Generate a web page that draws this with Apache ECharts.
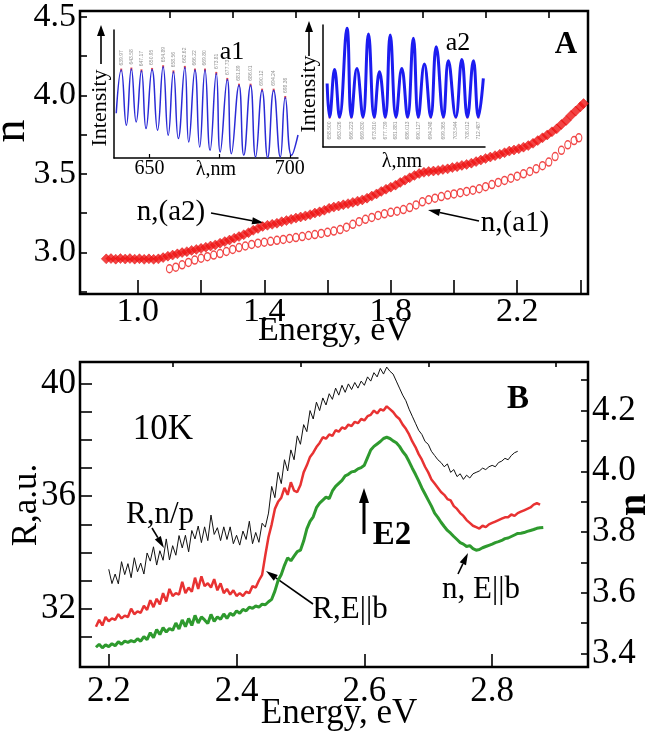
<!DOCTYPE html>
<html><head><meta charset="utf-8">
<script src="https://cdn.jsdelivr.net/npm/echarts@6/dist/echarts.min.js"></script>
<style>html,body{margin:0;padding:0;background:#fff}#c{width:650px;height:734px}</style>
</head><body><div id="c"></div><script>
// ---------- Panel A data (Energy eV, n) ----------
const A_a2 = [[0.900,2.958],[0.915,2.960],[0.930,2.956],[0.945,2.960],[0.960,2.957],[0.975,2.960],[0.990,2.956],[1.005,2.959],[1.020,2.955],[1.035,2.958],[1.050,2.955],[1.065,2.958],[1.080,2.966],[1.095,2.975],[1.110,2.982],[1.125,2.990],[1.140,2.998],[1.155,3.004],[1.170,3.012],[1.185,3.018],[1.200,3.025],[1.215,3.032],[1.230,3.040],[1.245,3.047],[1.260,3.058],[1.275,3.068],[1.290,3.078],[1.305,3.090],[1.320,3.100],[1.335,3.112],[1.350,3.125],[1.365,3.140],[1.380,3.152],[1.395,3.165],[1.410,3.172],[1.425,3.178],[1.440,3.185],[1.455,3.195],[1.470,3.202],[1.485,3.210],[1.500,3.218],[1.515,3.225],[1.530,3.232],[1.545,3.240],[1.560,3.250],[1.575,3.258],[1.590,3.268],[1.605,3.280],[1.620,3.288],[1.635,3.295],[1.650,3.303],[1.665,3.310],[1.680,3.318],[1.695,3.326],[1.710,3.334],[1.725,3.345],[1.740,3.358],[1.755,3.372],[1.770,3.388],[1.785,3.402],[1.800,3.415],[1.815,3.428],[1.830,3.445],[1.845,3.460],[1.860,3.475],[1.875,3.490],[1.890,3.502],[1.905,3.510],[1.920,3.515],[1.935,3.518],[1.950,3.522],[1.965,3.528],[1.980,3.532],[1.995,3.540],[2.010,3.546],[2.025,3.554],[2.040,3.560],[2.055,3.568],[2.070,3.578],[2.085,3.588],[2.100,3.598],[2.115,3.607],[2.130,3.616],[2.145,3.625],[2.160,3.635],[2.175,3.645],[2.190,3.652],[2.205,3.660],[2.220,3.670],[2.235,3.680],[2.250,3.695],[2.265,3.712],[2.280,3.730],[2.295,3.748],[2.310,3.768],[2.325,3.787],[2.340,3.815],[2.355,3.840],[2.370,3.872],[2.385,3.900],[2.400,3.928],[2.410,3.948]];
const A_a1 = [[1.100,2.895],[1.120,2.905],[1.140,2.920],[1.160,2.935],[1.180,2.950],[1.200,2.962],[1.220,2.972],[1.240,2.982],[1.260,2.992],[1.280,3.005],[1.300,3.018],[1.320,3.030],[1.340,3.040],[1.360,3.050],[1.380,3.058],[1.400,3.064],[1.420,3.070],[1.440,3.076],[1.460,3.082],[1.480,3.088],[1.500,3.094],[1.520,3.100],[1.540,3.107],[1.560,3.113],[1.580,3.120],[1.600,3.127],[1.620,3.135],[1.640,3.145],[1.660,3.160],[1.680,3.178],[1.700,3.195],[1.720,3.210],[1.740,3.222],[1.760,3.235],[1.780,3.245],[1.800,3.255],[1.820,3.262],[1.840,3.272],[1.860,3.285],[1.880,3.302],[1.900,3.322],[1.920,3.335],[1.940,3.345],[1.960,3.355],[1.980,3.365],[2.000,3.372],[2.020,3.380],[2.040,3.388],[2.060,3.396],[2.080,3.405],[2.100,3.418],[2.120,3.432],[2.140,3.445],[2.160,3.458],[2.180,3.472],[2.200,3.485],[2.220,3.500],[2.240,3.515],[2.260,3.532],[2.280,3.552],[2.300,3.575],[2.320,3.610],[2.340,3.650],[2.360,3.685],[2.380,3.712],[2.395,3.730]];
const A_X_MAJOR = [1.0,1.2,1.4,1.6,1.8,2.0,2.2,2.4];
const A_X_MINOR = [1.1,1.3,1.5,1.7,1.9,2.1,2.3];
const A_X_LABELS = [1.0,1.4,1.8,2.2];
const A_Y_TICKS = [2.75,3.0,3.25,3.5,3.75,4.0,4.25,4.5];
const A_Y_LABELS = [3.0,3.5,4.0,4.5];

// ---------- Inset a1 (wavelength nm, intensity a.u.) ----------
const a1Start = [638.2, 35];
const a1PeakNm = [639.97,643.58,647.17,650.95,654.89,658.56,662.62,666.22,669.80,673.81,677.73,681.89,686.01,690.12,694.24,698.36];
const a1PeakI  = [68.7,69.5,68.1,69.2,71.3,67.3,70.8,68.7,68.7,66.1,61.4,56.9,56.9,53.0,53.0,47.3];
const a1TroughNm = [641.8,645.3,648.8,652.9,656.7,660.3,664.0,667.9,671.6,675.2,679.2,683.6,687.8,692.1,696.6,700.6];
const a1TroughI  = [25.6,28.2,23.0,21.7,17.8,15.2,12.5,8.6,6.0,4.7,3.4,2.1,0.8,0.3,0.8,2.1];
const a1End = [702.9, 18];
const a1Ticks = [650,675,700];
const a1Labels = [650,700];

// ---------- Inset a2 ----------
const a2Start = [657.6, 52.1];
const a2TroughNm = [658.5,662.1,666.4,670.6,674.7,678.7,682.6,686.8,690.7,695.2,699.8,704.3,708.5,712.5];
const a2TroughI  = [24.6,24.6,24.6,24.6,24.6,24.6,24.6,24.6,24.6,24.6,24.6,24.6,24.6,24.6];
const a2TroughText = ['658.500','663.026','666.223','669.830','673.810','677.739','681.881','686.013','690.127','694.248','699.365','703.544','708.012','712.487'];
const a2PeakNm = [660.3,664.8,668.4,672.6,676.6,680.5,684.7,688.9,692.9,697.2,701.6,706.5,710.7];
const a2PeakI  = [63.6,97.3,64.4,92.6,61.6,91.8,64.4,89.1,68.0,82.2,70.7,71.8,70.7];
const a2End = [714.3, 56.2];

// ---------- Panel B data (sampled every 0.005 eV) ----------
const B_STEP = 0.005;
const B_black_E0 = 2.200;
const B_black_R = [
33.40,32.89,33.23,32.88,33.67,33.21,33.60,33.10,33.81,33.31,
33.62,33.23,33.98,33.69,34.20,33.55,34.06,33.72,34.48,33.73,
34.24,33.90,34.60,34.16,34.61,34.02,34.78,34.48,34.94,34.35,
34.91,34.42,35.33,34.64,34.88,34.42,34.91,34.46,34.91,34.31,
34.61,34.26,34.76,34.46,35.11,34.31,34.71,34.36,35.04,34.90,
35.40,36.35,35.95,36.85,36.45,37.30,36.90,37.65,37.30,38.15,
37.85,38.55,38.30,39.05,38.75,39.35,39.05,39.50,39.25,39.65,
39.45,39.85,39.60,39.95,39.70,40.00,39.80,40.05,39.85,40.10,
39.95,40.25,40.10,40.40,40.25,40.55,40.35,40.60,40.45,40.35,
40.10,39.85,39.60,39.40,39.10,38.85,38.60,38.35,38.20,37.95,
37.85,37.60,37.45,37.30,37.20,37.05,37.15,36.85,36.95,36.70,
36.80,36.60,36.75,36.65,36.80,36.85,36.90,37.00,36.95,37.05,
37.10,37.05,37.20,37.25,37.35,37.30,37.45,37.55,37.60];
const B_red_E0 = 2.180;
const B_red_R = [
31.35,31.60,31.40,31.70,31.55,31.65,31.60,31.80,31.65,31.75,
31.70,32.00,31.80,31.90,31.85,32.10,31.95,32.30,32.05,32.35,
32.15,32.55,32.25,32.70,32.45,32.55,32.50,32.95,32.55,32.75,
32.60,33.10,32.70,33.15,32.80,32.90,32.75,33.05,32.65,32.90,
32.55,32.70,32.50,32.65,32.45,32.55,32.45,32.60,32.55,32.80,
32.75,33.00,33.20,33.90,34.55,35.00,35.55,35.80,35.95,36.30,
36.05,36.50,36.20,36.15,36.40,36.85,37.10,37.40,37.55,37.75,
37.90,38.10,38.05,38.20,38.15,38.35,38.30,38.45,38.40,38.55,
38.50,38.65,38.60,38.75,38.70,38.85,38.90,39.05,38.95,39.10,
39.05,39.20,39.10,39.00,38.85,38.75,38.55,38.40,38.20,37.95,
37.75,37.50,37.30,37.05,36.85,36.60,36.45,36.30,36.15,36.05,
35.90,35.85,35.65,35.55,35.40,35.30,35.15,35.05,34.95,34.90,
34.85,34.95,34.90,35.00,35.05,35.10,35.15,35.20,35.25,35.25,
35.35,35.30,35.40,35.45,35.50,35.55,35.60,35.70,35.75,35.70];
const B_green_E0 = 2.180;
const B_green_n = [
3.420,3.430,3.418,3.428,3.422,3.432,3.425,3.438,3.430,3.440,
3.436,3.442,3.438,3.448,3.440,3.455,3.445,3.468,3.452,3.478,
3.462,3.485,3.470,3.482,3.476,3.500,3.480,3.510,3.488,3.515,
3.492,3.525,3.500,3.520,3.510,3.498,3.528,3.505,3.520,3.512,
3.530,3.515,3.532,3.525,3.540,3.532,3.545,3.540,3.552,3.548,
3.556,3.552,3.562,3.560,3.570,3.578,3.605,3.640,3.660,3.690,
3.715,3.705,3.720,3.735,3.740,3.770,3.810,3.835,3.850,3.880,
3.895,3.905,3.915,3.910,3.935,3.950,3.960,3.970,3.985,3.990,
3.998,4.000,4.008,4.012,4.020,4.045,4.070,4.082,4.090,4.098,
4.108,4.112,4.108,4.100,4.094,4.082,4.065,4.052,4.032,4.010,
3.990,3.968,3.945,3.925,3.905,3.885,3.862,3.848,3.832,3.818,
3.805,3.796,3.785,3.775,3.765,3.760,3.752,3.755,3.745,3.740,
3.742,3.748,3.752,3.756,3.760,3.765,3.768,3.772,3.778,3.780,
3.785,3.790,3.795,3.796,3.798,3.802,3.805,3.808,3.812,3.814,
3.815];
const B_X_MAJOR = [2.2,2.4,2.6,2.8];
const B_X_MINOR = [2.3,2.5,2.7,2.9];
const B_R_TICKS = [31,32,33,34,35,36,37,38,39,40];
const B_R_LABELS = [32,36,40];
const B_N_TICKS = [3.4,3.5,3.6,3.7,3.8,3.9,4.0,4.1,4.2,4.3];
const B_N_LABELS = [3.4,3.6,3.8,4.0,4.2];

// ---------- build ----------
const FF = 'Liberation Serif';
const toPairs = (e0, arr) => arr.map((v, i) => [+(e0 + i * B_STEP).toFixed(3), v]);
function interleave(start, pN, pI, tN, tI, end) {
  const out = [start];
  for (let i = 0; i < pN.length; i++) {
    out.push([pN[i], pI[i]]);
    if (i < tN.length) out.push([tN[i], tI[i]]);
  }
  out.push(end);
  return out;
}
const a1Line = interleave(a1Start, a1PeakNm, a1PeakI, a1TroughNm, a1TroughI, a1End);
const a2Line = (function () {
  const out = [a2Start];
  for (let i = 0; i < a2TroughNm.length; i++) {
    out.push([a2TroughNm[i], a2TroughI[i]]);
    if (i < a2PeakNm.length) out.push([a2PeakNm[i], a2PeakI[i]]);
  }
  out.push(a2End);
  return out;
})();

const tickStyle = {color: '#000', width: 1.6};
function lbl(size, margin, fmt, custom) {
  return {show: true, customValues: custom, fontSize: size, fontFamily: FF, fontWeight: 'normal', color: '#000', margin: margin, formatter: fmt};
}
const f1 = v => (+v).toFixed(1);
const f0 = v => String(Math.round(v));

function arrow(x1, y1, x2, y2, w, hl, hw) {
  const dx = x2 - x1, dy = y2 - y1, L = Math.hypot(dx, dy), ux = dx / L, uy = dy / L;
  const bx = x2 - ux * hl, by = y2 - uy * hl, px = -uy, py = ux;
  return [
    {type: 'line', shape: {x1: x1, y1: y1, x2: bx, y2: by}, style: {stroke: '#000', lineWidth: w}},
    {type: 'polygon', shape: {points: [[x2, y2], [bx + px * hw, by + py * hw], [bx - px * hw, by - py * hw]]}, style: {fill: '#000'}}
  ];
}
function txt(s, x, y, size, opts) {
  opts = opts || {};
  return {type: 'text', x: x, y: y, rotation: opts.rot || 0, z: 100,
    style: {text: s, font: (opts.bold ? 'bold ' : '') + size + 'px "Liberation Serif"', fill: '#000',
      textAlign: 'center', textVerticalAlign: 'middle', align: 'center', verticalAlign: 'middle'}};
}

const graphics = [].concat(
  txt('n', 12, 131, 46, {rot: Math.PI / 2}),
  txt('Energy, eV', 334, 331, 34),
  txt('A', 566, 45, 31, {bold: true}),
  txt('a1', 232, 52, 26),
  txt('a2', 458, 43, 26),
  txt('Intensity', 100, 108, 22, {rot: Math.PI / 2}),
  arrow(101, 64, 101, 25, 1.6, 11, 4),
  txt('Intensity', 309, 94, 22, {rot: Math.PI / 2}),
  arrow(309, 56, 309, 21, 1.6, 11, 4),
  txt('λ,nm', 216, 170, 20),
  txt('λ,nm', 402, 162, 20),
  txt('n,(a2)', 171, 212, 29),
  arrow(211, 213, 264, 223, 1.6, 12, 3.5),
  txt('n,(a1)', 515, 223, 29),
  arrow(479, 221, 428, 210, 1.6, 12, 3.5),
  txt('R,a.u.', 27, 505, 35, {rot: Math.PI / 2}),
  txt('n', 635, 505, 40, {rot: Math.PI / 2, bold: true}),
  txt('Energy, eV', 339, 714, 35),
  txt('10K', 163, 430, 35),
  txt('B', 518, 399, 33, {bold: true}),
  txt('R,n/p', 160, 515, 31),
  arrow(152, 528, 164, 548, 1.6, 12, 3.5),
  txt('R,E||b', 350, 610, 31),
  arrow(313, 604, 266, 571, 1.6, 12, 3.5),
  txt('n, E||b', 481, 590, 31),
  arrow(458, 574, 468, 553, 1.6, 12, 3.5),
  txt('E2', 392, 535, 33, {bold: true}),
  arrow(364, 534, 364, 488, 3, 15, 5)
);

const chart = echarts.init(document.getElementById('c'), null, {renderer: 'canvas'});
chart.setOption({
  animation: false,
  backgroundColor: '#fff',
  textStyle: {fontFamily: FF},
  grid: [
    {left: 80, top: 7, width: 508, height: 287, show: true, borderColor: '#000', borderWidth: 2.5, backgroundColor: 'transparent'},
    {left: 80, top: 362, width: 508, height: 305, show: true, borderColor: '#000', borderWidth: 2.5, backgroundColor: 'transparent'},
    {left: 114, top: 30, width: 184, height: 128},
    {left: 323, top: 25, width: 162, height: 122}
  ],
  xAxis: [
    {type: 'value', gridIndex: 0, min: 0.817, max: 2.424, axisLine: {show: false}, splitLine: {show: false},
      axisTick: {inside: true, length: 14, lineStyle: tickStyle, customValues: A_X_MAJOR},
      axisLabel: lbl(34, 1, f1, A_X_LABELS)},
    {type: 'value', gridIndex: 0, min: 0.817, max: 2.424, axisLine: {show: false}, splitLine: {show: false},
      axisTick: {inside: true, length: 7, lineStyle: tickStyle, customValues: A_X_MINOR}, axisLabel: {show: false}},
    {type: 'value', gridIndex: 1, min: 2.155, max: 2.95, axisLine: {show: false}, splitLine: {show: false},
      axisTick: {inside: true, length: 13, lineStyle: tickStyle, customValues: B_X_MAJOR},
      axisLabel: lbl(35, 7, f1, B_X_MAJOR)},
    {type: 'value', gridIndex: 1, min: 2.155, max: 2.95, axisLine: {show: false}, splitLine: {show: false},
      axisTick: {inside: true, length: 5, lineStyle: tickStyle, customValues: B_X_MINOR}, axisLabel: {show: false}},
    {type: 'value', gridIndex: 2, min: 637.4, max: 702.9, axisLine: {show: true, onZero: false, lineStyle: {color: '#000', width: 1.5}}, splitLine: {show: false},
      axisTick: {inside: true, length: 4, lineStyle: {color: '#000', width: 1.2}, customValues: a1Ticks},
      axisLabel: lbl(20, 1, f0, a1Labels)},
    {type: 'value', gridIndex: 3, min: 656.1, max: 714.9, axisLine: {show: true, onZero: false, lineStyle: {color: '#000', width: 1.5}}, splitLine: {show: false},
      axisTick: {show: false}, axisLabel: {show: false}}
  ],
  yAxis: [
    {type: 'value', gridIndex: 0, min: 2.734, max: 4.538, axisLine: {show: false}, splitLine: {show: false},
      axisTick: {inside: true, length: 7, lineStyle: tickStyle, customValues: A_Y_TICKS},
      axisLabel: lbl(34, 4, f1, A_Y_LABELS)},
    {type: 'value', gridIndex: 1, min: 29.92, max: 40.78, axisLine: {show: false}, splitLine: {show: false},
      axisTick: {inside: true, length: 12, lineStyle: tickStyle, customValues: B_R_TICKS},
      axisLabel: lbl(35, 4, f0, B_R_LABELS)},
    {type: 'value', gridIndex: 1, position: 'right', min: 3.355, max: 4.36, axisLine: {show: false}, splitLine: {show: false},
      axisTick: {inside: true, length: 7, lineStyle: tickStyle, customValues: B_N_TICKS},
      axisLabel: lbl(35, 4, f1, B_N_LABELS)},
    {type: 'value', gridIndex: 2, min: 0, max: 100, axisLine: {show: true, onZero: false, lineStyle: {color: '#000', width: 1.5}},
      splitLine: {show: false}, axisTick: {show: false}, axisLabel: {show: false}},
    {type: 'value', gridIndex: 3, min: 0, max: 100, axisLine: {show: true, onZero: false, lineStyle: {color: '#000', width: 1.5}},
      splitLine: {show: false}, axisTick: {show: false}, axisLabel: {show: false}}
  ],
  series: [
    {type: 'scatter', xAxisIndex: 0, yAxisIndex: 0, data: A_a1, symbol: 'circle', symbolSize: [6, 8],
      itemStyle: {color: 'rgba(255,255,255,0)', borderColor: '#ee1c1c', borderWidth: 1.3}},
    {type: 'scatter', xAxisIndex: 0, yAxisIndex: 0, data: A_a2, symbol: 'diamond', symbolSize: [10, 10],
      itemStyle: {color: '#f01414', borderColor: '#d00', borderWidth: 0.5}},
    {type: 'line', xAxisIndex: 4, yAxisIndex: 3, data: a1Line, smooth: 0.5, showSymbol: false,
      lineStyle: {color: '#2b2bd6', width: 1.5}},
    {type: 'scatter', xAxisIndex: 4, yAxisIndex: 3, data: a1PeakNm.map((x, i) => [x, a1PeakI[i]]), symbol: 'rect', symbolSize: [2, 3],
      itemStyle: {color: '#e02020'},
      label: {show: true, position: 'top', rotate: 90, align: 'left', verticalAlign: 'middle', distance: 3,
        fontSize: 5, color: '#777', fontFamily: 'Liberation Sans', formatter: p => p.value[0].toFixed(2)}},
    {type: 'line', xAxisIndex: 5, yAxisIndex: 4, data: a2Line, smooth: 0.45, showSymbol: false,
      lineStyle: {color: '#1c1cf0', width: 3}},
    {type: 'scatter', xAxisIndex: 5, yAxisIndex: 4, data: a2TroughNm.map((x, i) => [x, a2TroughI[i]]), symbol: 'rect', symbolSize: [2, 3],
      itemStyle: {color: '#e02020'},
      label: {show: true, position: 'bottom', rotate: 90, align: 'right', verticalAlign: 'middle', distance: 3,
        fontSize: 5, color: '#777', fontFamily: 'Liberation Sans', formatter: p => a2TroughText[p.dataIndex]}},
    {type: 'line', xAxisIndex: 2, yAxisIndex: 1, data: toPairs(B_black_E0, B_black_R), showSymbol: false,
      lineStyle: {color: '#111', width: 1}},
    {type: 'line', xAxisIndex: 2, yAxisIndex: 2, data: toPairs(B_green_E0, B_green_n), showSymbol: false,
      lineStyle: {color: '#2e9a2e', width: 3}},
    {type: 'line', xAxisIndex: 2, yAxisIndex: 1, data: toPairs(B_red_E0, B_red_R), showSymbol: false,
      lineStyle: {color: '#e83232', width: 2.5}}
  ],
  graphic: graphics
});
</script></body></html>
